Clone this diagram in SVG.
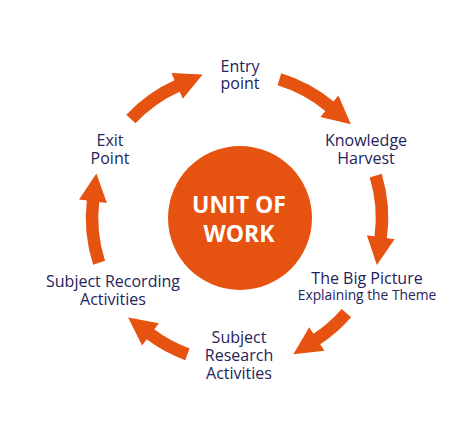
<svg xmlns="http://www.w3.org/2000/svg" width="474" height="440" viewBox="0 0 474 440">
<defs>
<style>
.lbl{font-family:"Open Sans","Noto Sans",sans-serif;font-size:16px;fill:#25235a;text-anchor:middle}
.sm{font-size:13.8px}
.core{font-family:"Open Sans","Noto Sans",sans-serif;font-weight:bold;font-size:23px;fill:#ffffff;text-anchor:middle}
.arc{fill:none;stroke:#e6520f;stroke-width:12.5;marker-end:url(#head)}
</style>
<marker id="head" markerUnits="userSpaceOnUse" orient="auto" markerWidth="40" markerHeight="40" refX="1" refY="0" viewBox="0 -20 40 40" overflow="visible">
<path d="M0,-14 L28,0 L0,14 z" fill="#e6520f"/>
</marker>
</defs>
<rect width="474" height="440" fill="#ffffff"/>
<g id="connectors">
<path class="arc" d="M130.9,119.1 A145,145 0 0 1 178,85.5"/>
<path class="arc" d="M279.4,79.3 A145,145 0 0 1 330.2,106.9"/>
<path class="arc" d="M375.7,175.6 A145,145 0 0 1 380.6,238.2"/>
<path class="arc" d="M346.4,313.1 A145,145 0 0 1 316,339.6"/>
<path class="arc" d="M187.4,354.3 A145,145 0 0 1 149.7,333.8"/>
<path class="arc" d="M99.1,262.8 A145,145 0 0 1 93.1,200.3"/>
</g>
<g id="core">
<circle cx="240" cy="218" r="72" fill="#e6520f"/>
<text class="core" x="239" y="213">UNIT OF</text>
<text class="core" x="239" y="242">WORK</text>
</g>
<g id="entry"><text class="lbl" x="240" y="72">Entry</text><text class="lbl" x="240" y="89">point</text></g>
<g id="knowledge"><text class="lbl" x="366" y="146">Knowledge</text><text class="lbl" x="366" y="164">Harvest</text></g>
<g id="bigpicture"><text class="lbl" x="367" y="284">The Big Picture</text><text class="lbl sm" x="367" y="300">Explaining the Theme</text></g>
<g id="research"><text class="lbl" x="239" y="343">Subject</text><text class="lbl" x="239" y="361">Research</text><text class="lbl" x="239" y="379">Activities</text></g>
<g id="recording"><text class="lbl" x="113" y="287">Subject Recording</text><text class="lbl" x="113" y="305">Activities</text></g>
<g id="exit"><text class="lbl" x="110" y="146">Exit</text><text class="lbl" x="110" y="164">Point</text></g>
</svg>
